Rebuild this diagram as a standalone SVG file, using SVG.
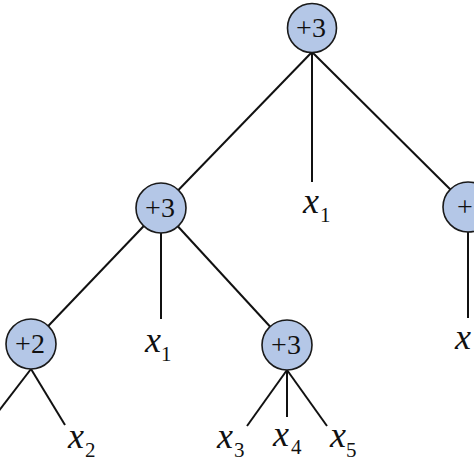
<svg xmlns="http://www.w3.org/2000/svg" width="474" height="474" viewBox="0 0 474 474">
<style>
.e{stroke:#111;stroke-width:2;fill:none}
.n circle{fill:#b4c7e7;stroke:#1a1a1a;stroke-width:1.6}
text{font-family:'Liberation Serif','Times New Roman',serif;fill:#111}
.l{font-size:28px;text-anchor:middle}
.v{font-size:36px;font-style:italic}
.s{font-size:21px}
</style>
<rect width="474" height="474" fill="#fff"/>
<g id="connectors">
<line class="e" x1="312" y1="52" x2="161" y2="208"/>
<line class="e" x1="312" y1="52" x2="312" y2="182"/>
<line class="e" x1="312" y1="52" x2="468" y2="207"/>
<line class="e" x1="161" y1="208" x2="31" y2="344"/>
<line class="e" x1="161" y1="208" x2="161" y2="319"/>
<line class="e" x1="161" y1="208" x2="287" y2="345"/>
<line class="e" x1="468" y1="207" x2="468" y2="318"/>
<line class="e" x1="31" y1="369" x2="-2" y2="412"/>
<line class="e" x1="31" y1="369" x2="65" y2="425"/>
<line class="e" x1="287" y1="370" x2="247" y2="426"/>
<line class="e" x1="287" y1="370" x2="287" y2="417"/>
<line class="e" x1="287" y1="370" x2="327" y2="426"/>
</g>
<g id="root" class="n"><circle cx="312" cy="28" r="24.5"/><text class="l" x="311" y="37">+3</text></g>
<g id="mid" class="n"><circle cx="161" cy="208" r="25"/><text class="l" x="160" y="217">+3</text></g>
<g id="right" class="n"><circle cx="468" cy="207" r="25"/><text x="457" y="216" font-size="28">+</text></g>
<g id="plus2" class="n"><circle cx="31" cy="344" r="25"/><text class="l" x="30" y="353">+2</text></g>
<g id="bot3" class="n"><circle cx="287" cy="345" r="25"/><text class="l" x="286" y="354">+3</text></g>
<g id="leaf-x1-top"><text class="v" x="303" y="213">x</text><text class="s" x="320" y="222">1</text></g>
<g id="leaf-x1-mid"><text class="v" x="145" y="352">x</text><text class="s" x="161" y="361">1</text></g>
<g id="leaf-x-right"><text class="v" x="455" y="349">x</text></g>
<g id="leaf-x2"><text class="v" x="68" y="448">x</text><text class="s" x="85" y="457">2</text></g>
<g id="leaf-x3"><text class="v" x="217" y="448">x</text><text class="s" x="234" y="457">3</text></g>
<g id="leaf-x4"><text class="v" x="273" y="446">x</text><text class="s" x="291" y="454">4</text></g>
<g id="leaf-x5"><text class="v" x="330" y="447">x</text><text class="s" x="346" y="457">5</text></g>
</svg>
